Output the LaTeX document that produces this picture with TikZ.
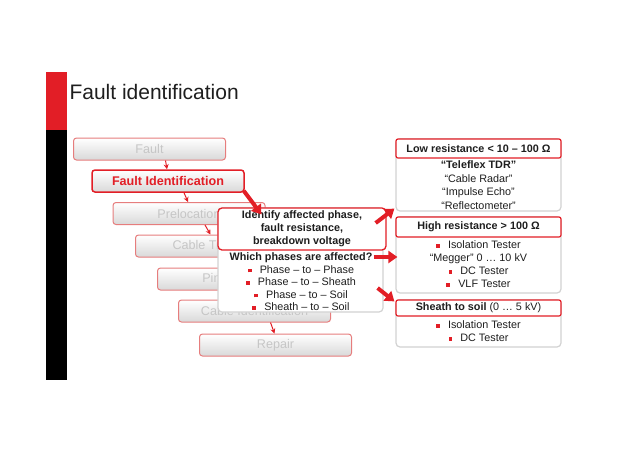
\documentclass[tikz,border=0pt]{standalone}
\usepackage{fontspec}
\setmainfont{Liberation Sans}
\usetikzlibrary{arrows.meta}
\definecolor{faultred}{RGB}{226,30,38}
\definecolor{softred}{RGB}{230,125,125}
\definecolor{textdark}{RGB}{30,30,30}
\newcommand{\sqbullet}{\textcolor{faultred}{\rule[1pt]{3.8pt}{3.8pt}}\hspace{8pt}}

\begin{document}
\begin{tikzpicture}[x=1pt, y=-1pt, >=Stealth, font=\fontsize{10.8}{13}\selectfont,
		stepbox/.style={draw=softred, line width=1pt, rounded corners=3pt, top color=white, bottom color=gray!30,
			minimum width=152pt, minimum height=22pt, inner sep=0pt, text=gray!45, font=\fontsize{12.6}{14}\selectfont},
		panel/.style={draw=gray!35, line width=1.2pt, fill=white, rounded corners=4pt, minimum width=165pt, inner sep=0pt},
		headbox/.style={draw=faultred, line width=1.2pt, fill=white, rounded corners=2pt, minimum width=165pt, inner sep=0pt, text=textdark},
		smallarrow/.style={->, draw=faultred, line width=1pt, >={Stealth[length=5pt,width=5pt]}},
		bigarrow/.style={->, draw=faultred, line width=4pt, >={Triangle[length=9pt,width=12pt]}}]
		\useasboundingbox (0,0) rectangle (638,451);
		% side bar and title
		\fill[faultred] (46,72) rectangle (67,130);
		\fill[black] (46,130) rectangle (67,380);
		\node[anchor=base west, font=\fontsize{21}{25}\selectfont, text=textdark] (title) at (66,99) {Fault identification};
		% process steps
		\node[stepbox] (fault) at (149.5,149) {Fault};
		\node[stepbox, draw=faultred, line width=1.5pt, text=faultred, font=\fontsize{12.6}{14}\selectfont\bfseries] (faultid) at (168,181) {Fault Identification};
		\node[stepbox] (preloc) at (189,213.5) {Prelocation};
		\node[stepbox] (cabletr) at (211.5,246) {Cable Tracing};
		\node[stepbox] (pinpt) at (233.5,279) {Pinpointing};
		\node[stepbox] (cableid) at (254.5,311) {Cable Identification};
		\node[stepbox] (repair) at (275.5,345) {Repair};
		\foreach \a/\b in {fault/faultid, faultid/preloc, preloc/cabletr, cabletr/pinpt, pinpt/cableid, cableid/repair}
			\draw[smallarrow] ([xshift=16pt]\a.south) -- ([xshift=-1pt]\b.north);
		% callout
		\node[panel, minimum width=165pt, minimum height=104pt] (callbody) at (300.5,260) {};
		\node[headbox, minimum width=168pt, minimum height=42pt, line width=1.3pt, rounded corners=4pt, align=center, font=\fontsize{10.8}{13}\selectfont\bfseries] (callhead) at (302,229) {Identify affected phase,\\fault resistance,\\breakdown voltage};
		\node[align=center, text=textdark, font=\fontsize{10.8}{12.5}\selectfont] (calltext) at (301,282) {\textbf{Which phases are affected?}\\
			\sqbullet Phase -- to -- Phase\\\sqbullet Phase -- to -- Sheath\\\sqbullet Phase -- to -- Soil\\\sqbullet Sheath -- to -- Soil};
		% low resistance
		\node[panel, minimum height=72pt] (low) at (478.5,175) {};
		\node[headbox, minimum height=19pt, anchor=north] (lowhead) at (low.north) {\textbf{Low resistance < 10 -- 100 Ω}};
		\node[align=center, text=textdark, font=\fontsize{10.8}{13.7}\selectfont] (lowtext) at (478.5,185) {\textbf{“Teleflex TDR”}\\“Cable Radar”\\“Impulse Echo”\\“Reflectometer”};
		% high resistance
		\node[panel, minimum height=76pt] (high) at (478.5,255) {};
		\node[headbox, minimum height=20pt, anchor=north] (highhead) at (high.north) {\textbf{High resistance > 100 Ω}};
		\node[align=center, text=textdark] (hightext) at (478.5,264.5) {\sqbullet Isolation Tester\\“Megger” 0 … 10 kV\\\sqbullet DC Tester\\\sqbullet VLF Tester};
		% sheath to soil
		\node[panel, minimum height=47pt] (sheath) at (478.5,323.5) {};
		\node[headbox, minimum height=16pt, anchor=north] (sheathhead) at (sheath.north) {\textbf{Sheath to soil} (0 … 5 kV)};
		\node[align=center, text=textdark] (sheathtext) at (478.5,331.5) {\sqbullet Isolation Tester\\\sqbullet DC Tester};
		% thick arrows
		\draw[bigarrow] ([xshift=-1pt,yshift=2pt]faultid.south east) -- ([xshift=44pt,yshift=-7pt]callhead.north west);
		\draw[bigarrow] ([xshift=-11pt,yshift=6pt]callhead.east) -- ([xshift=-1pt,yshift=3pt]low.south west);
		\draw[bigarrow] ([xshift=-10pt,yshift=3pt]callbody.east) -- ([xshift=2pt,yshift=-2pt]high.west);
		\draw[bigarrow] ([xshift=-6pt,yshift=-28pt]callbody.east) -- ([xshift=-1pt,yshift=-2pt]sheath.north west);
	\end{tikzpicture}
\end{document}
